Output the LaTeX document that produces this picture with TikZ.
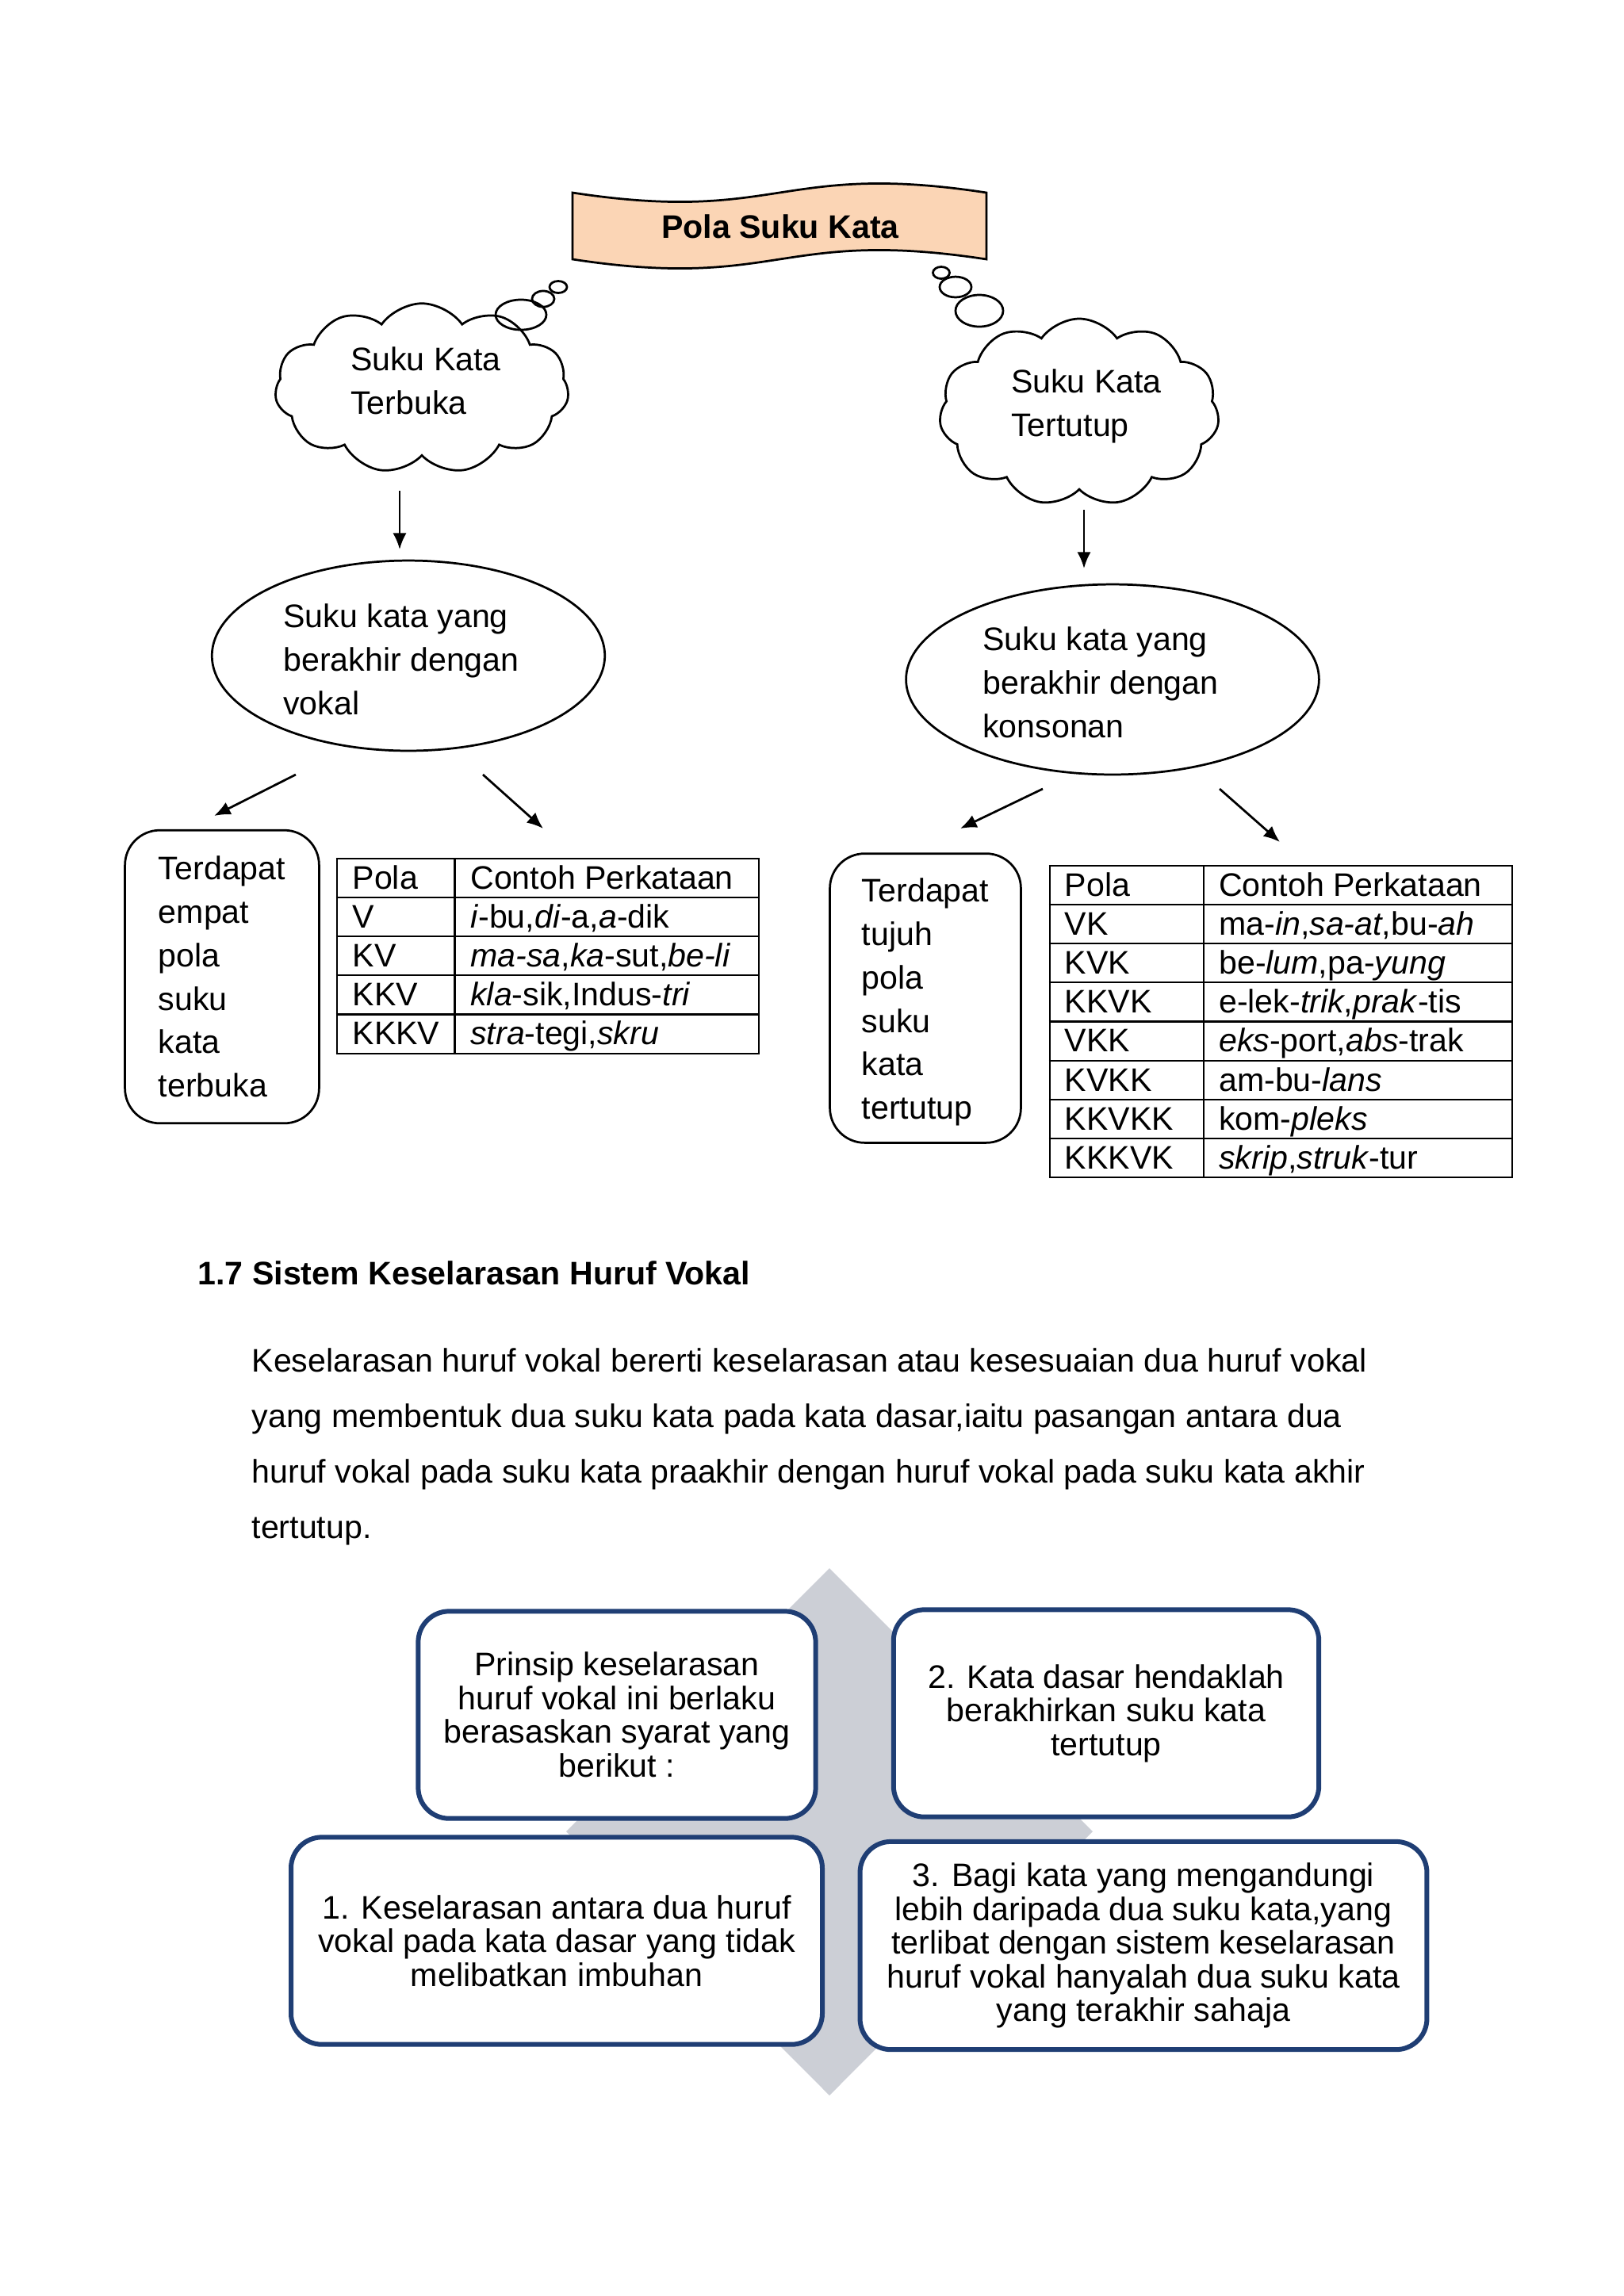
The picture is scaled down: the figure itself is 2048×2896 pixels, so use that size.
\documentclass[tikz,border=0pt]{standalone}
\usepackage{fontspec}
\usepackage{array}
\setmainfont{Liberation Sans}
\usetikzlibrary{shapes.symbols,shapes.geometric,arrows.meta}

\definecolor{bannerfill}{RGB}{251,213,181}
\definecolor{matrixgray}{RGB}{204,207,214}
\definecolor{boxblue}{RGB}{31,62,116}

\newcommand{\tblfont}{\fontsize{12pt}{9.5pt}\selectfont}
\newcommand{\bodyfont}{\fontsize{12pt}{16pt}\selectfont}
\setlength{\arrayrulewidth}{0.6pt}

\tikzset{
  thought/.style={cloud, draw, cloud puffs=11, cloud puff arc=110, cloud ignores aspect, line width=0.8pt},
  bubble/.style={ellipse, draw, line width=0.8pt},
  listbox/.style={draw, rounded corners=0.45cm, line width=0.8pt, align=left},
  smartbox/.style={draw=boxblue, line width=1.75pt, fill=white, rounded corners=0.4cm, align=center,
    font=\fontsize{12pt}{12.4pt}\selectfont},
  arr/.style={-{Latex[length=6pt,width=5pt]}, line width=0.8pt}
}

\begin{document}
\begin{tikzpicture}[x=0.010254cm, y=-0.010254cm, font=\bodyfont]
    \useasboundingbox (0,0) rectangle (2048,2896);

    % banner
    \draw[fill=bannerfill, line width=0.8pt] (722,243) .. controls (983,283) and (983,203) .. (1244,243)
        -- (1244,327) .. controls (983,287) and (983,367) .. (722,327) -- cycle;
    \node[font=\bodyfont\bfseries](pola) at (984,286){Pola Suku Kata};

    % clouds
    \node[thought, minimum width=3.8cm, minimum height=2.2cm](buka) at (532,490){};
    \node[align=left](bukaText) at (537,480){Suku Kata\\Terbuka};
    \draw[line width=0.8pt] (657,397) ellipse [x radius=0.328cm, y radius=0.195cm];
    \draw[line width=0.8pt] (685,377) ellipse [x radius=0.144cm, y radius=0.103cm];
    \draw[line width=0.8pt] (704,362) ellipse [x radius=0.113cm, y radius=0.077cm];

    \node[thought, minimum width=3.62cm, minimum height=2.42cm](tutup) at (1361,520){};
    \node[align=left](tutupText) at (1370,512){Suku Kata\\Tertutup};
    \draw[line width=0.8pt] (1235,392) ellipse [x radius=0.308cm, y radius=0.205cm];
    \draw[line width=0.8pt] (1205,362) ellipse [x radius=0.205cm, y radius=0.133cm];
    \draw[line width=0.8pt] (1187,344) ellipse [x radius=0.108cm, y radius=0.077cm];

    % ellipses
    \node[bubble, minimum width=5.08cm, minimum height=2.46cm](vokal) at (515,827){};
    \node[align=left](vokalText) at (506,832){Suku kata yang\\berakhir dengan\\vokal};
    \node[bubble, minimum width=5.34cm, minimum height=2.46cm](konsonan) at (1403,857){};
    \node[align=left](konsonanText) at (1388,861){Suku kata yang\\berakhir dengan\\konsonan};

    % arrows
    \coordinate(a_1) at (504,619);
    \coordinate(b_1) at (504,693);
    \coordinate(a_2) at (1367,643);
    \coordinate(b_2) at (1367,717);
    \coordinate(a_3) at (373,977);
    \coordinate(b_3) at (270,1029);
    \coordinate(a_4) at (609,977);
    \coordinate(b_4) at (685,1045);
    \coordinate(a_5) at (1315,995);
    \coordinate(b_5) at (1211,1045);
    \coordinate(a_6) at (1538,995);
    \coordinate(b_6) at (1614,1062);
    \draw[arr](a_1)--(b_1);
    \draw[arr](a_2)--(b_2);
    \draw[arr](a_3)--(b_3);
    \draw[arr](a_4)--(b_4);
    \draw[arr](a_5)--(b_5);
    \draw[arr](a_6)--(b_6);

    % boxes and tables
    \node[listbox, minimum width=2.51cm, minimum height=3.79cm](empat) at (280,1232)
        {Terdapat\\empat\\pola\\suku\\kata\\terbuka};
    \node[listbox, minimum width=2.47cm, minimum height=3.74cm](tujuh) at (1167,1259){};
    \node[align=left](tujuhText) at (1167,1264){Terdapat\\tujuh\\pola\\suku\\kata\\tertutup};

    \node[anchor=north west, inner sep=0pt](tblBuka) at (423,1081){\tblfont
      \setlength{\tabcolsep}{5.5pt}\setlength{\extrarowheight}{4.25pt}%
      \begin{tabular}{|p{31.8pt}|p{100.3pt}|}\hline
      Pola & Contoh Perkataan\\\hline
      V & \textit{i}-bu,\textit{di}-a,\textit{a}-dik\\\hline
      KV & \textit{ma-sa},\textit{ka}-sut,\textit{be-li}\\\hline
      KKV & \textit{kla}-sik,Indus-\textit{tri}\\\hline
      KKKV & \textit{stra}-tegi,\textit{skru}\\\hline
      \end{tabular}};

    \node[anchor=north west, inner sep=0pt](tblTutup) at (1322,1090){\tblfont
      \setlength{\tabcolsep}{5.3pt}\setlength{\extrarowheight}{4.25pt}%
      \begin{tabular}{|p{45.5pt}|p{102.4pt}|}\hline
      Pola & Contoh Perkataan\\\hline
      VK & ma-\textit{in},\textit{sa-at},bu-\textit{ah}\\\hline
      KVK & be-\textit{lum},pa-\textit{yung}\\\hline
      KKVK & e-lek-\textit{trik},\textit{prak}-tis\\\hline
      VKK & \textit{eks}-port,\textit{abs}-trak\\\hline
      KVKK & am-bu-\textit{lans}\\\hline
      KKVKK & kom-\textit{pleks}\\\hline
      KKKVK & \textit{skrip},\textit{struk}-tur\\\hline
      \end{tabular}};

    % section text
    \node[anchor=base west, inner sep=0pt, font=\bodyfont\bfseries](judul) at (249,1620){1.7 Sistem Keselarasan Huruf Vokal};
    \node[anchor=base west, inner sep=0pt](para_1) at (317,1730){Keselarasan huruf vokal bererti keselarasan atau kesesuaian dua huruf vokal};
    \node[anchor=base west, inner sep=0pt](para_2) at (317,1800){yang membentuk dua suku kata pada kata dasar,iaitu pasangan antara dua};
    \node[anchor=base west, inner sep=0pt](para_3) at (317,1870){huruf vokal pada suku kata praakhir dengan huruf vokal pada suku kata akhir};
    \node[anchor=base west, inner sep=0pt](para_4) at (317,1940){tertutup.};

    % matrix
    \fill[matrixgray] (1046,1978) -- (1378,2310) -- (1046,2643) -- (714,2310) -- cycle;
    \node[smartbox, minimum width=5.14cm, minimum height=2.68cm](prinsip) at (778,2163)
        {Prinsip keselarasan\\huruf vokal ini berlaku\\berasaskan syarat yang\\berikut :};
    \node[smartbox, minimum width=5.50cm, minimum height=2.68cm](syarat_2) at (1395,2161)
        {2. Kata dasar hendaklah\\berakhirkan suku kata\\tertutup};
    \node[smartbox, minimum width=6.87cm, minimum height=2.68cm](syarat_1) at (702,2448)
        {1. Keselarasan antara dua huruf\\vokal pada kata dasar yang tidak\\melibatkan imbuhan};
    \node[smartbox, minimum width=7.33cm, minimum height=2.69cm](syarat_3) at (1442,2454)
        {3. Bagi kata yang mengandungi\\lebih daripada dua suku kata,yang\\terlibat dengan sistem keselarasan\\huruf vokal hanyalah dua suku kata\\yang terakhir sahaja};
\end{tikzpicture}
\end{document}
